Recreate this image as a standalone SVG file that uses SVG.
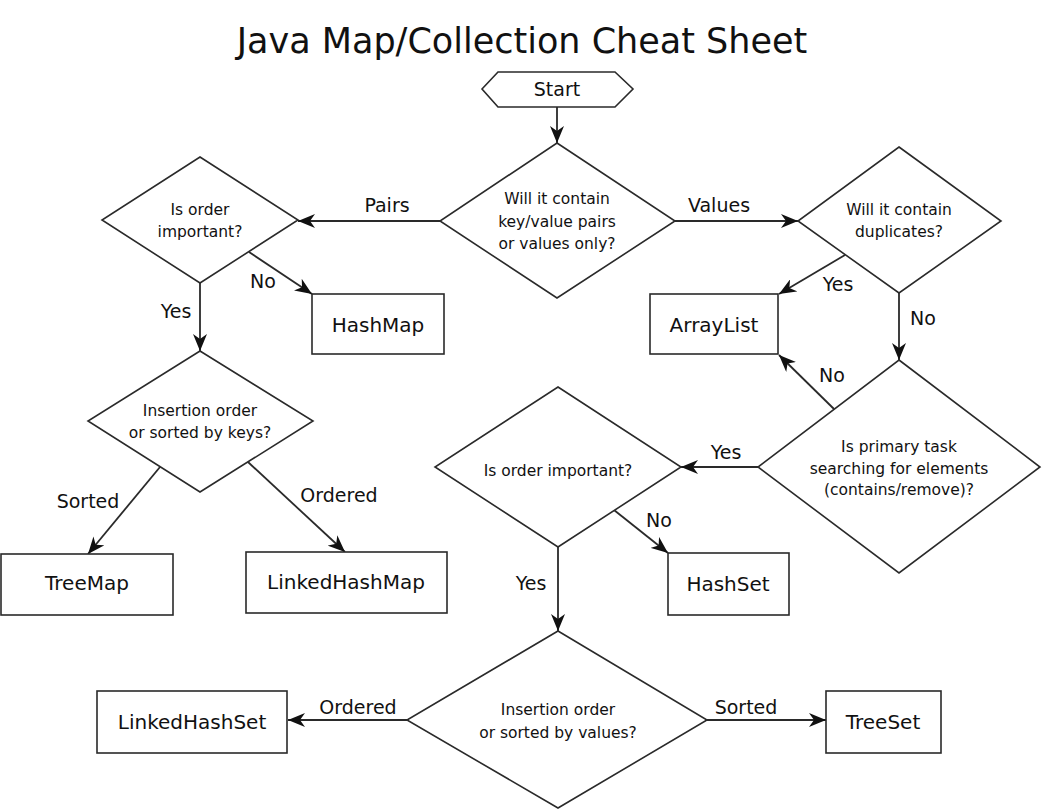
<svg xmlns="http://www.w3.org/2000/svg" width="1045" height="810" viewBox="0 0 1045 810">
<style>
.shape{fill:#fff;stroke:#2a2a2a;stroke-width:1.6}
.edge{fill:none;stroke:#2a2a2a;stroke-width:1.8}
.title{font-family:"DejaVu Sans",Verdana,sans-serif;font-size:35px;fill:#111;text-anchor:middle}
.q{font-family:"DejaVu Sans",Verdana,sans-serif;font-size:15.5px;fill:#111;text-anchor:middle}
.box{font-family:"DejaVu Sans",Verdana,sans-serif;font-size:20px;fill:#111;text-anchor:middle}
.lbl{font-family:"DejaVu Sans",Verdana,sans-serif;font-size:19px;fill:#111;text-anchor:middle}
</style>
<defs>
<marker id="ah" markerUnits="userSpaceOnUse" markerWidth="18" markerHeight="14" refX="17" refY="7" orient="auto">
<path d="M0,0 L17,7 L0,14 L5,7 z" fill="#111"/>
</marker>
</defs>
<rect width="1045" height="810" fill="#fff"/>
<text class="title" x="522" y="53">Java Map/Collection Cheat Sheet</text>

<g id="connectors">
<line class="edge" x1="557" y1="107" x2="557" y2="143" marker-end="url(#ah)"/>
<line class="edge" x1="440" y1="221" x2="298" y2="221" marker-end="url(#ah)"/>
<line class="edge" x1="675" y1="221" x2="798" y2="221" marker-end="url(#ah)"/>
<line class="edge" x1="249" y1="252" x2="312" y2="294" marker-end="url(#ah)"/>
<line class="edge" x1="200" y1="283" x2="200" y2="351" marker-end="url(#ah)"/>
<line class="edge" x1="160" y1="467" x2="88" y2="554" marker-end="url(#ah)"/>
<line class="edge" x1="248" y1="462" x2="345" y2="552" marker-end="url(#ah)"/>
<line class="edge" x1="845" y1="255" x2="779" y2="294" marker-end="url(#ah)"/>
<line class="edge" x1="899" y1="293" x2="899" y2="360" marker-end="url(#ah)"/>
<line class="edge" x1="834" y1="409" x2="779" y2="355" marker-end="url(#ah)"/>
<line class="edge" x1="758" y1="467" x2="681" y2="467" marker-end="url(#ah)"/>
<line class="edge" x1="614" y1="510" x2="668" y2="553" marker-end="url(#ah)"/>
<line class="edge" x1="558" y1="547" x2="558" y2="631" marker-end="url(#ah)"/>
<line class="edge" x1="407" y1="720" x2="288" y2="720" marker-end="url(#ah)"/>
<line class="edge" x1="707" y1="720" x2="826" y2="720" marker-end="url(#ah)"/>
<text class="lbl" x="387" y="212">Pairs</text>
<text class="lbl" x="719" y="212">Values</text>
<text class="lbl" x="263" y="288">No</text>
<text class="lbl" x="176" y="318">Yes</text>
<text class="lbl" x="88" y="508">Sorted</text>
<text class="lbl" x="339" y="502">Ordered</text>
<text class="lbl" x="838" y="291">Yes</text>
<text class="lbl" x="923" y="325">No</text>
<text class="lbl" x="832" y="382">No</text>
<text class="lbl" x="726" y="459">Yes</text>
<text class="lbl" x="659" y="527">No</text>
<text class="lbl" x="531" y="590">Yes</text>
<text class="lbl" x="358" y="714">Ordered</text>
<text class="lbl" x="746" y="714">Sorted</text>
</g>

<g id="start">
<polygon class="shape" points="482,89 498,72 615,72 633,89 615,107 498,107"/>
<text class="lbl" x="557" y="96">Start</text>
</g>

<g id="q-pairs-values">
<polygon class="shape" points="557,143 675,221 557,298 440,221"/>
<text class="q" x="557" y="204">Will it contain</text>
<text class="q" x="557" y="227">key/value pairs</text>
<text class="q" x="557" y="249">or values only?</text>
</g>

<g id="q-map-order">
<polygon class="shape" points="200,157 298,220 200,283 102,220"/>
<text class="q" x="200" y="215">Is order</text>
<text class="q" x="200" y="237">important?</text>
</g>

<g id="hashmap">
<rect class="shape" x="312" y="294" width="132" height="60"/>
<text class="box" x="378" y="332">HashMap</text>
</g>

<g id="q-map-sort">
<polygon class="shape" points="200,351 313,421 200,492 88,421"/>
<text class="q" x="200" y="416">Insertion order</text>
<text class="q" x="200" y="438">or sorted by keys?</text>
</g>

<g id="treemap">
<rect class="shape" x="1" y="554" width="172" height="61"/>
<text class="box" x="87" y="590">TreeMap</text>
</g>

<g id="linkedhashmap">
<rect class="shape" x="246" y="552" width="201" height="61"/>
<text class="box" x="346" y="589">LinkedHashMap</text>
</g>

<g id="q-duplicates">
<polygon class="shape" points="899,147 1001,221 899,293 798,221"/>
<text class="q" x="899" y="215">Will it contain</text>
<text class="q" x="899" y="237">duplicates?</text>
</g>

<g id="arraylist">
<rect class="shape" x="650" y="294" width="128" height="60"/>
<text class="box" x="714" y="332">ArrayList</text>
</g>

<g id="q-search">
<polygon class="shape" points="899,360 1040,467 899,573 758,467"/>
<text class="q" x="899" y="452">Is primary task</text>
<text class="q" x="899" y="474">searching for elements</text>
<text class="q" x="899" y="495">(contains/remove)?</text>
</g>

<g id="q-set-order">
<polygon class="shape" points="558,387 681,467 558,547 435,467"/>
<text class="q" x="558" y="476">Is order important?</text>
</g>

<g id="hashset">
<rect class="shape" x="668" y="553" width="121" height="62"/>
<text class="box" x="728" y="591">HashSet</text>
</g>

<g id="q-set-sort">
<polygon class="shape" points="558,631 707,720 558,808 407,720"/>
<text class="q" x="558" y="715">Insertion order</text>
<text class="q" x="558" y="738">or sorted by values?</text>
</g>

<g id="linkedhashset">
<rect class="shape" x="97" y="691" width="190" height="62"/>
<text class="box" x="192" y="729">LinkedHashSet</text>
</g>

<g id="treeset">
<rect class="shape" x="826" y="691" width="115" height="62"/>
<text class="box" x="883" y="729">TreeSet</text>
</g>
</svg>
